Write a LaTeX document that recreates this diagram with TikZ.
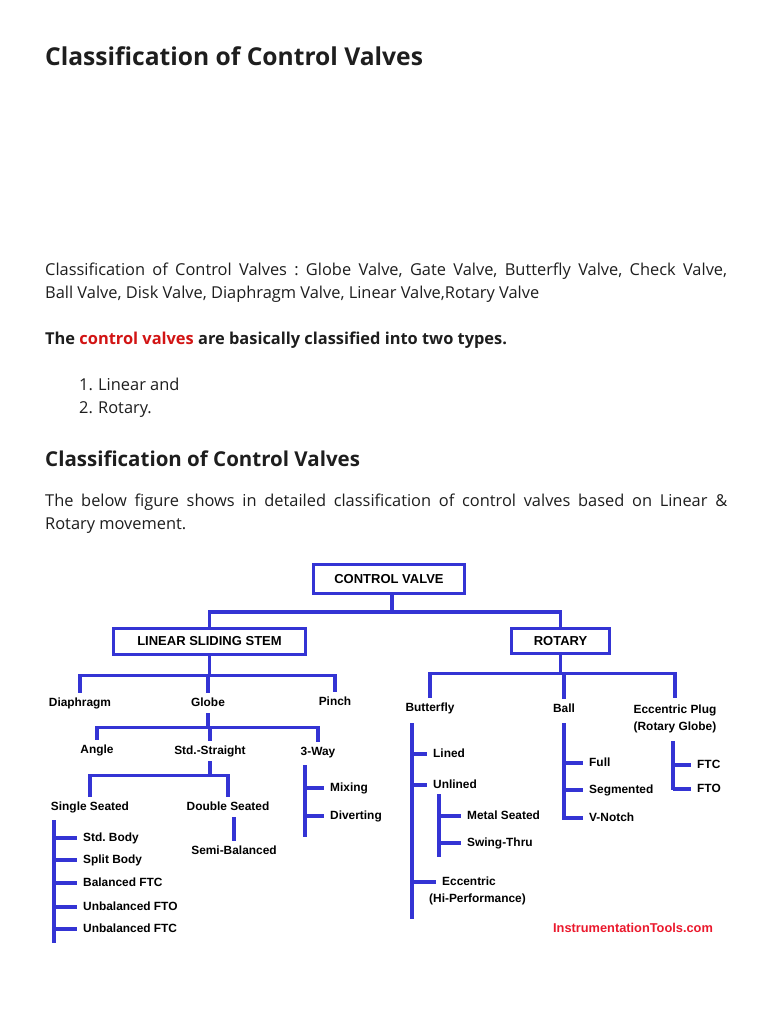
\documentclass[tikz,border=0pt]{standalone}
\usepackage{fontspec}
\setmainfont{Open Sans}
\newfontfamily\arialfont{Liberation Sans}
\usetikzlibrary{positioning}
\frenchspacing

\definecolor{valveblue}{RGB}{52,52,212}
\definecolor{inkgray}{RGB}{30,30,30}
\definecolor{keyred}{RGB}{210,20,20}
\definecolor{sitered}{RGB}{235,25,45}

\tikzset{
  body/.style={anchor=base west, inner sep=0pt, text=inkgray, font=\fontsize{16.4}{19}\selectfont},
  bodybold/.style={body, font=\fontsize{16.4}{19}\selectfont\bfseries},
  headline/.style={anchor=base west, inner sep=0pt, text=inkgray, font=\fontsize{24.6}{28}\selectfont\bfseries},
  subhead/.style={anchor=base west, inner sep=0pt, text=inkgray, font=\fontsize{20.5}{24}\selectfont\bfseries},
  tagfont/.style={font=\arialfont\fontsize{11.9}{17}\selectfont\bfseries, text=black},
  tag/.style={tagfont, inner xsep=3pt, inner ysep=4.5pt, text height=8.7pt, text depth=2.5pt},
  leaf/.style={tag, anchor=west},
  vbox/.style={draw=valveblue, line width=3.3pt, inner sep=0pt,
    font=\arialfont\fontsize{13}{15}\selectfont\bfseries},
  link/.style={draw=valveblue, line width=3.2pt},
  twig/.style={link, shorten >=3pt}
}

\begin{document}
\begin{tikzpicture}[x=1pt,y=-1pt]
\useasboundingbox[fill=white] (0,0) rectangle (768,1024);

% Testo della pagina
\node[headline] (title) at (45,66) {Classification of Control Valves};
\node[body] (intro1) at (45,275) {\makebox[682pt][s]{Classification of Control Valves : Globe Valve, Gate Valve, Butterfly Valve, Check Valve,}};
\node[body] (intro2) at (45,298) {Ball Valve, Disk Valve, Diaphragm Valve, Linear Valve,Rotary Valve};
\node[bodybold] (types) at (45,344) {The \textcolor{keyred}{control valves} are basically classified into two types.};
\node[body] (num1) at (79,390) {1.};
\node[body] (item1) at (98,390) {Linear and};
\node[body] (num2) at (79,413) {2.};
\node[body] (item2) at (98,413) {Rotary.};
\node[subhead] (heading) at (45,466) {Classification of Control Valves};
\node[body] (below1) at (45,506) {\makebox[682pt][s]{The below figure shows in detailed classification of control valves based on Linear \&}};
\node[body] (below2) at (45,529) {Rotary movement.};

% Riquadri principali
\node[vbox, minimum width=150.7pt, minimum height=28.7pt] (cv) at (389,579) {CONTROL VALVE};
\node[vbox, minimum width=191.7pt, minimum height=25.7pt] (lss) at (209.5,641.5) {LINEAR SLIDING STEM};
\node[vbox, minimum width=97.7pt, minimum height=24.7pt] (rot) at (560.5,641) {ROTARY};

% Etichette ramo lineare
\node[tag] (diaph) at (80,703) {Diaphragm};
\node[tag] (globe) at (208,703) {Globe};
\node[tag] (pinch) at (335,702) {Pinch};
\node[tag] (angle) at (97,750) {Angle};
\node[tag] (straight) at (210,751) {Std.-Straight};
\node[tag] (threeway) at (318,752) {3-Way};
\node[tag] (single) at (90,807) {Single Seated};
\node[tag] (double) at (228,807) {Double Seated};
\node[tag] (semibal) at (234,851) {Semi-Balanced};
\node[leaf] (stdbody) at (80,838) {Std. Body};
\node[leaf] (splitbody) at (80,860) {Split Body};
\node[leaf] (balftc) at (80,883) {Balanced FTC};
\node[leaf] (unbfto) at (80,907) {Unbalanced FTO};
\node[leaf] (unbftc) at (80,929) {Unbalanced FTC};
\node[leaf] (mixing) at (327,788) {Mixing};
\node[leaf] (diverting) at (327,816) {Diverting};

% Etichette ramo rotativo
\node[tag] (bfly) at (430,708) {Butterfly};
\node[tag] (ball) at (564,709) {Ball};
\node[tagfont, align=center, inner xsep=3pt, inner ysep=7pt, anchor=north] (eplug) at (675,698) {Eccentric Plug\\(Rotary Globe)};
\node[leaf] (lined) at (430,754) {Lined};
\node[leaf] (unlined) at (430,785) {Unlined};
\node[leaf] (metal) at (464,816) {Metal Seated};
\node[leaf] (swing) at (464,843) {Swing-Thru};
\node[leaf] (eccentric) at (439,882) {Eccentric};
\node[tag, anchor=west] (hiperf) at (426,899) {(Hi-Performance)};
\node[leaf] (full) at (586,763) {Full};
\node[leaf] (segmented) at (586,790) {Segmented};
\node[leaf] (vnotch) at (586,818) {V-Notch};
\node[leaf] (ftc) at (694,765) {FTC};
\node[leaf] (fto) at (694,789) {FTO};

\node[font=\arialfont\fontsize{12.8}{14}\selectfont\bfseries, text=sitered] (site) at (633,928) {InstrumentationTools.com};

% Collegamenti ad albero
\draw[link] ([xshift=3pt]cv.south) -- ++(0,17) -| (lss.north);
\draw[link] ([xshift=3pt]cv.south) -- ++(0,17) -| (rot.north);
\foreach \kid in {diaph,globe,pinch}
  \draw[link] (lss.south) -- ++(0,19.5) -| (\kid.north);
\foreach \kid in {bfly,ball,eplug}
  \draw[link] (rot.south) -- ++(0,18.5) -| (\kid.north);
\foreach \kid in {angle,straight,threeway}
  \draw[link] (globe.south) -- ++(0,14) -| (\kid.north);
\foreach \kid in {single,double}
  \draw[link] (straight.south) -- ++(0,14) -| (\kid.north);
\draw[link] (semibal.north |- double.south) -- (semibal.north);

% Tronchi verticali
\coordinate (ssTop) at (54,820);   \coordinate (ssEnd) at (54,943);
\coordinate (twTop) at (305,765);  \coordinate (twEnd) at (305,837);
\coordinate (bfTop) at (412,723);  \coordinate (bfEnd) at (412,919);
\coordinate (ulTop) at (439,794);  \coordinate (ulEnd) at (439,857);
\coordinate (blTop) at (564,723);  \coordinate (blEnd) at (564,820);
\coordinate (epTop) at (673,741);  \coordinate (epEnd) at (673,790);
\foreach \a/\b in {ssTop/ssEnd,twTop/twEnd,bfTop/bfEnd,ulTop/ulEnd,blTop/blEnd,epTop/epEnd}
  \draw[link] (\a) -- (\b);

\foreach \leaf in {stdbody,splitbody,balftc,unbfto,unbftc}
  \draw[twig] (ssTop |- \leaf.west) -- (\leaf.west);
\foreach \leaf in {mixing,diverting}
  \draw[twig] (twTop |- \leaf.west) -- (\leaf.west);
\foreach \leaf in {lined,unlined,eccentric}
  \draw[twig] (bfTop |- \leaf.west) -- (\leaf.west);
\foreach \leaf in {metal,swing}
  \draw[twig] (ulTop |- \leaf.west) -- (\leaf.west);
\foreach \leaf in {full,segmented,vnotch}
  \draw[twig] (blTop |- \leaf.west) -- (\leaf.west);
\foreach \leaf in {ftc,fto}
  \draw[twig] (epTop |- \leaf.west) -- (\leaf.west);
\end{tikzpicture}
\end{document}
